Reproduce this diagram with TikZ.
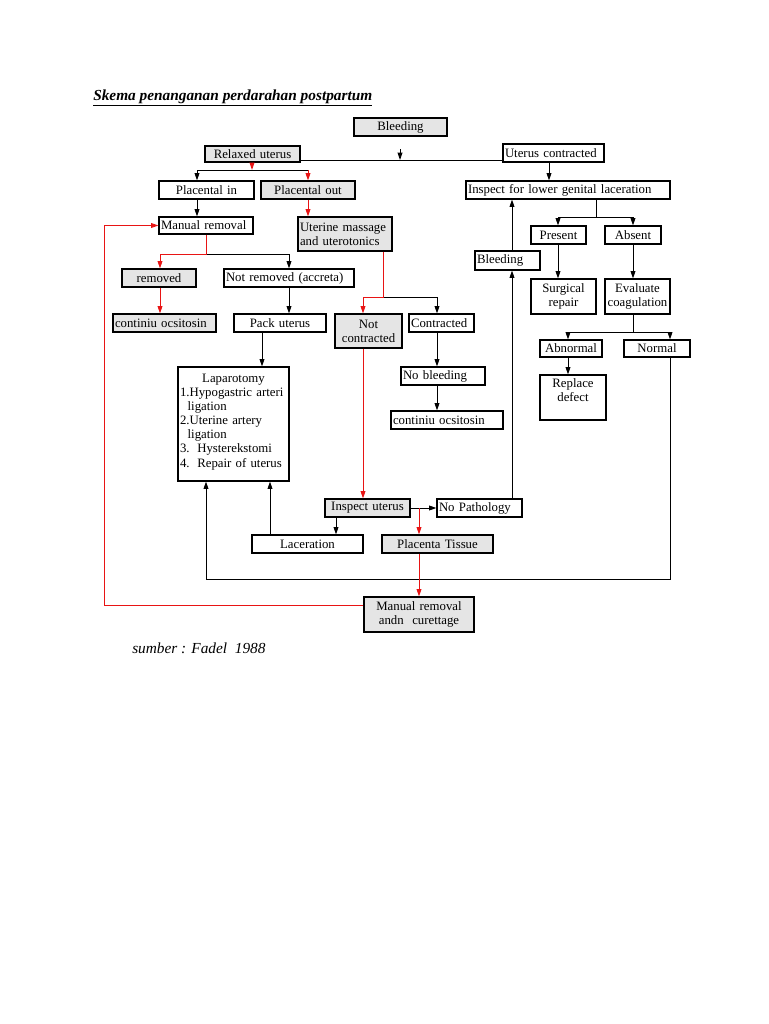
\documentclass[tikz,border=0pt]{standalone}
\usepackage{fontspec}
\setmainfont{Liberation Serif}
\usetikzlibrary{arrows.meta,shadows}
\definecolor{boxgray}{gray}{0.9}
\definecolor{lred}{RGB}{232,20,20}
\newcommand{\bxfont}{\fontsize{9.6}{10.6}\selectfont}
\begin{document}
\begin{tikzpicture}[x=0.75pt,y=-0.75pt,
 box/.style={draw=black, line width=0.85pt, fill=white, inner xsep=1.5pt, inner ysep=0pt, font=\bxfont,
   drop shadow={shadow xshift=0.8pt,shadow yshift=-0.8pt,fill=black,opacity=1}},
 gbox/.style={box, fill=boxgray},
 sz/.style n args={3}{minimum width=#1*0.75pt, minimum height=#2*0.75pt, text width=#1*0.75pt-3pt, align=#3},
 ln/.style={line width=0.7pt, draw=black},
 rln/.style={line width=0.7pt, draw=lred},
 arr/.style={ln, -{Triangle[length=5.5pt,width=3.6pt]}},
 rarr/.style={rln, -{Triangle[length=5.5pt,width=3.6pt]}}]
\useasboundingbox (0,0) rectangle (768,1024);

% title and source
\node[anchor=base west, inner sep=0pt, font=\fontsize{11.5}{13}\selectfont\bfseries\itshape] (title) at (93,100) {\underline{Skema penanganan perdarahan postpartum}};
\node[anchor=base west, inner sep=0pt, font=\fontsize{11.5}{13}\selectfont\itshape] (src) at (132,653) {sumber : Fadel\ \ 1988};

% nodes
\node[gbox, sz={93}{18}{center}] (bleed) at (400.5,127) {Bleeding};
\node[gbox, sz={95}{16}{center}] (relax) at (252.5,154) {Relaxed uterus};
\node[box, sz={101}{18}{left}] (ucon) at (553.5,153) {Uterus contracted};
\node[box, sz={204}{18}{left}] (insp) at (568,190) {Inspect for lower genital laceration};
\node[box, sz={95}{18}{center}] (pin) at (206.5,190) {Placental in};
\node[gbox, sz={94}{18}{center}] (pout) at (308,190) {Placental out};
\node[box, sz={94}{17}{left}] (manrem) at (206,225.5) {Manual removal};
\node[gbox, sz={94}{34}{left}] (mass) at (345,234) {Uterine massage\\and uterotonics};
\node[gbox, sz={74}{18}{center}] (removed) at (159,278) {removed};
\node[box, sz={130}{18}{left}] (notrem) at (289,278) {Not removed (accreta)};
\node[gbox, sz={103}{18}{left}] (cont1) at (164.5,323) {continiu ocsitosin};
\node[box, sz={92}{18}{center}] (pack) at (280,323) {Pack uterus};
\node[gbox, sz={67}{34}{center}] (notcon) at (368.5,331) {Not\\contracted};
\node[box, sz={65}{18}{left}] (contr) at (441.5,323) {Contracted};
\node[box, sz={84}{18}{left}] (nobl) at (443,376) {No bleeding};
\node[box, sz={112}{18}{left}] (cont2) at (447,420) {continiu ocsitosin};
\node[box, sz={111}{114}{left}] (lap) at (233.5,424) {\hfill Laparotomy\hfill\mbox{}\\1.Hypogastric arteri\\\hspace*{0.6em}ligation\\2.Uterine artery\\\hspace*{0.6em}ligation\\3.\hspace{0.6em}Hysterekstomi\\4.\hspace{0.6em}Repair of uterus\\[-0.5\baselineskip]\mbox{}};
\node[gbox, sz={85}{18}{center}] (inspu) at (367.5,508) {Inspect uterus};
\node[box, sz={85}{18}{left}] (nopath) at (479.5,508) {No Pathology};
\node[box, sz={111}{18}{center}] (lac) at (307.5,544) {Laceration};
\node[gbox, sz={111}{18}{center}] (plac) at (437.5,544) {Placenta Tissue};
\node[gbox, sz={110}{35}{center}] (mrc) at (419,614.5) {Manual removal\\andn\ \ curettage};
\node[box, sz={65}{19}{left}] (bleed2) at (507.5,260.5) {Bleeding};
\node[box, sz={55}{18}{center}] (pres) at (558.5,235) {Present};
\node[box, sz={56}{18}{center}] (abs) at (633,235) {Absent};
\node[box, sz={65}{35}{center}] (surg) at (563.5,296.5) {Surgical\\repair};
\node[box, sz={65}{35}{center}] (eval) at (637.5,296.5) {Evaluate\\coagulation};
\node[box, sz={62}{17}{center}] (abn) at (571,348.5) {Abnormal};
\node[box, sz={66}{17}{center}] (norm) at (657,348.5) {Normal};
\node[box, sz={66}{45}{center}] (repl) at (573,397.5) {Replace\\defect\\\mbox{}};

% junction coordinates
\coordinate (b1) at (400,149);
\coordinate (b2) at (400,160);
\coordinate (j1) at (252,170);
\coordinate (j1l) at (197,170);
\coordinate (j1r) at (308,170);
\coordinate (j2) at (206,254);
\coordinate (j2l) at (160,254);
\coordinate (j2r) at (289,254);
\coordinate (j3) at (383,297);
\coordinate (j3l) at (363,297);
\coordinate (j3r) at (437,297);
\coordinate (j4) at (419,508);
\coordinate (j5) at (596,217);
\coordinate (j5l) at (558,217);
\coordinate (j5r) at (633,217);
\coordinate (j6) at (633,332);
\coordinate (j6l) at (568,332);
\coordinate (j6r) at (670,332);
\coordinate (k1) at (670,579);
\coordinate (k2) at (206,579);
\coordinate (r1) at (104,605);
\coordinate (r2) at (104,225.5);

% connectors (black)
\draw[arr] (b1) -- (b2);
\draw[ln] (relax.east |- 0,160) -- (ucon.west |- 0,160);
\draw[arr] (ucon.south -| 549,0) -- (insp.north -| 549,0);
\draw[ln] (j1l) -- (j1r);
\draw[arr] (j1l) -- (pin.north -| j1l);
\draw[arr] (pin.south -| 197,0) -- (manrem.north -| 197,0);
\draw[ln] (j2) -- (j2r);
\draw[arr] (j2r) -- (notrem.north -| j2r);
\draw[arr] (notrem.south -| j2r) -- (pack.north -| j2r);
\draw[ln] (j3) -- (j3r);
\draw[arr] (j3r) -- (contr.north -| j3r);
\draw[arr] (contr.south -| j3r) -- (nobl.north -| j3r);
\draw[arr] (nobl.south -| j3r) -- (cont2.north -| j3r);
\draw[arr] (pack.south -| 262,0) -- (lap.north -| 262,0);
\draw[arr] (inspu.east) -- (nopath.west);
\draw[arr] (inspu.south -| 336,0) -- (lac.north -| 336,0);
\draw[arr] (lac.north -| 270,0) -- (lap.south -| 270,0);
\draw[arr] (nopath.north -| 512,0) -- (bleed2.south -| 512,0);
\draw[arr] (bleed2.north -| 512,0) -- (insp.south -| 512,0);
\draw[ln] (insp.south -| j5) -- (j5);
\draw[ln] (j5l) -- (j5r);
\draw[arr] (j5l) -- (pres.north -| j5l);
\draw[arr] (j5r) -- (abs.north -| j5r);
\draw[arr] (pres.south -| j5l) -- (surg.north -| j5l);
\draw[arr] (abs.south -| j5r) -- (eval.north -| j5r);
\draw[ln] (eval.south -| j6) -- (j6);
\draw[ln] (j6l) -- (j6r);
\draw[arr] (j6l) -- (abn.north -| j6l);
\draw[arr] (j6r) -- (norm.north -| j6r);
\draw[arr] (abn.south -| j6l) -- (repl.north -| j6l);
\draw[arr] (norm.south -| k1) -- (k1) -- (k2) -- (lap.south -| k2);

% connectors (red)
\draw[rarr] (relax.south -| j1) -- (j1);
\draw[rarr] (j1r) -- (pout.north -| j1r);
\draw[rarr] (pout.south -| j1r) -- (mass.north -| j1r);
\draw[rln] (manrem.south -| j2) -- (j2) -- (j2l);
\draw[rarr] (j2l) -- (removed.north -| j2l);
\draw[rarr] (removed.south -| j2l) -- (cont1.north -| j2l);
\draw[rln] (mass.south -| j3) -- (j3) -- (j3l);
\draw[rarr] (j3l) -- (notcon.north -| j3l);
\draw[rarr] (notcon.south -| j3l) -- (inspu.north -| j3l);
\draw[rarr] (j4) -- (plac.north -| j4);
\draw[rarr] (plac.south -| j4) -- (mrc.north -| j4);
\draw[rarr] (mrc.west |- r1) -- (r1) -- (r2) -- (manrem.west);
\end{tikzpicture}
\end{document}
